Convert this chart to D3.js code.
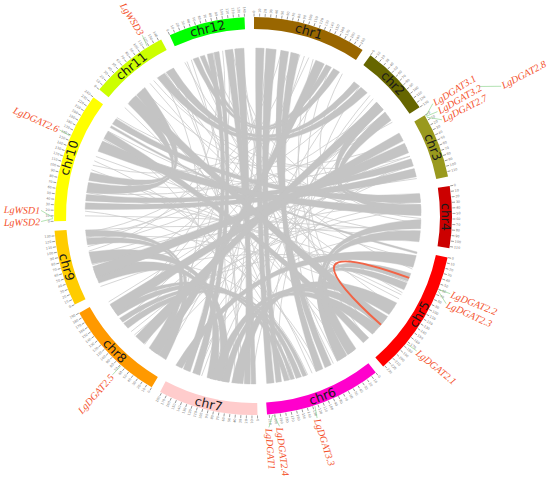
<!DOCTYPE html>
<html>
<head>
<meta charset="utf-8">
<script src="https://cdn.jsdelivr.net/npm/d3@7"></script>
<style>
  body { margin: 0; background: #fff; }
</style>
</head>
<body>
<svg id="chart" width="550" height="480"></svg>
<script>
// chromosomes, lengths (units of the ticks)
const chromNames = ["chr1", "chr2", "chr3", "chr4", "chr5", "chr6",
                    "chr7", "chr8", "chr9", "chr10", "chr11", "chr12"];
const chromLengths = [208, 130, 119, 113, 233, 214, 183, 190, 139, 240, 145, 140];
const chromColors = ["#996600", "#666600", "#99991e", "#cc0000", "#ff0000", "#ff00cc",
                     "#ffcccc", "#ff9900", "#ffcc00", "#ffff00", "#ccff00", "#00ff00"];

// syntenic blocks: [chrA, startA, endA, chrB, startB, endB]
const blocks = [
  [12, 95, 112, 7, 2, 12],
  [12, 116, 136, 7, 14, 27],
  [1, 4, 22, 6, 194, 210],
  [1, 26, 48, 6, 178, 190],
  [1, 58, 75, 6, 65, 80],
  [1, 80, 98, 6, 85, 101],
  [12, 24, 36, 1, 178, 193],
  [12, 40, 50, 1, 160, 173],
  [11, 100, 118, 2, 24, 42],
  [11, 122, 140, 2, 6, 20],
  [1, 136, 156, 8, 22, 42],
  [12, 56, 68, 7, 146, 162],
  [12, 71, 82, 7, 124, 140],
  [7, 62, 84, 9, 62, 88],
  [7, 88, 108, 9, 18, 50],
  [8, 110, 124, 6, 134, 146],
  [8, 127, 138, 6, 122, 131],
  [8, 144, 158, 6, 161, 172],
  [8, 161, 172, 6, 150, 158],
  [9, 104, 118, 8, 28, 48],
  [9, 122, 136, 8, 4, 22],
  [10, 60, 82, 11, 42, 66],
  [10, 86, 104, 11, 16, 36],
  [10, 24, 38, 3, 88, 106],
  [10, 42, 56, 3, 66, 82],
  [10, 152, 176, 4, 32, 54],
  [10, 182, 200, 5, 216, 232],
  [10, 209, 214, 5, 2, 6],
  [10, 218, 232, 4, 6, 24],
  [4, 8, 26, 2, 98, 120],
  [4, 30, 48, 2, 70, 92],
  [4, 62, 82, 6, 26, 50],
  [4, 86, 110, 6, 2, 22],
  [5, 10, 36, 7, 165, 180],
  [3, 5, 24, 8, 150, 174],
  [3, 30, 52, 9, 30, 56],
  [5, 120, 150, 7, 30, 54],
  [5, 155, 178, 7, 80, 100],
  [5, 182, 205, 7, 60, 76],
  [5, 50, 68, 6, 28, 46],
  [5, 72, 88, 6, 6, 24],
  [2, 72, 92, 8, 62, 86],
  [11, 20, 40, 5, 160, 184]
];

// single gene pairs: [chrA, pos, chrB, pos]
const links = [
  [1, 110, 7, 150], [1, 120, 9, 20], [1, 185, 10, 120], [2, 20, 6, 40], [2, 100, 8, 120],
  [2, 125, 10, 60], [3, 15, 7, 100], [3, 60, 9, 80], [3, 90, 8, 30], [4, 40, 8, 100],
  [4, 100, 10, 200], [4, 70, 12, 60], [5, 20, 10, 140], [5, 95, 11, 80], [5, 140, 9, 120],
  [5, 180, 12, 120], [5, 220, 1, 130], [6, 30, 11, 30], [6, 90, 10, 20], [6, 160, 12, 10],
  [6, 200, 2, 50], [7, 40, 11, 130], [7, 170, 3, 40], [8, 10, 1, 100], [8, 90, 4, 20],
  [8, 180, 2, 110], [9, 10, 5, 60], [9, 70, 3, 100], [9, 130, 1, 60], [10, 10, 4, 90],
  [10, 80, 5, 100], [10, 130, 6, 140], [10, 235, 3, 20], [11, 5, 6, 110], [11, 60, 4, 10],
  [11, 140, 7, 80], [12, 5, 5, 40], [12, 90, 8, 150], [12, 130, 6, 60], [1, 200, 4, 60],
  [2, 5, 7, 120], [3, 110, 10, 170], [6, 120, 9, 40], [7, 100, 1, 30], [8, 60, 12, 100],
  [9, 100, 2, 80], [5, 110, 10, 100], [4, 105, 9, 135], [6, 70, 1, 150], [7, 10, 3, 70],
  [1, 15, 7, 60], [1, 45, 8, 150], [1, 90, 9, 110], [1, 170, 5, 200], [2, 30, 9, 120],
  [2, 60, 7, 20], [2, 90, 6, 180], [3, 40, 10, 90], [3, 80, 8, 170], [4, 20, 9, 60],
  [4, 50, 11, 100], [4, 95, 7, 140], [5, 30, 8, 120], [5, 70, 10, 60], [5, 130, 11, 120],
  [5, 200, 12, 30], [6, 10, 10, 180], [6, 50, 12, 120], [6, 150, 11, 60], [7, 50, 12, 20],
  [7, 130, 2, 90], [8, 40, 3, 10], [8, 130, 1, 180], [9, 40, 4, 80], [9, 90, 12, 70],
  [10, 110, 6, 100], [10, 190, 7, 30], [11, 90, 3, 60], [11, 110, 8, 30], [12, 110, 4, 30]
];

// highlighted pair
const redLinks = [[5, 60, 5, 178]];

// genes: [name, chr, pos]
const genes = [
  ["LgWSD3", 11, 117],
  ["LgDGAT2.6", 10, 158],
  ["LgWSD1", 10, 7],
  ["LgWSD2", 10, 5],
  ["LgDGAT3.1", 3, 2],
  ["LgDGAT3.2", 3, 3],
  ["LgDGAT2.7", 3, 5],
  ["LgDGAT2.8", 3, 4],
  ["LgDGAT2.2", 5, 60],
  ["LgDGAT2.3", 5, 63],
  ["LgDGAT2.1", 5, 174],
  ["LgDGAT2.5", 8, 68],
  ["LgDGAT2.4", 6, 202],
  ["LgDGAT1", 6, 204],
  ["LgDGAT3.3", 6, 126]
];

// label placement (degrees) where labels are spread apart
const labelAngle = {
  "LgWSD3": 328.5, "LgDGAT2.6": 294, "LgWSD1": 271.5, "LgWSD2": 268.5,
  "LgDGAT3.1": 58, "LgDGAT3.2": 60.5, "LgDGAT2.7": 63, "LgDGAT2.8": 62.4,
  "LgDGAT2.2": 111.5, "LgDGAT2.3": 114.4, "LgDGAT2.1": 129.5, "LgDGAT2.5": 221.5,
  "LgDGAT2.4": 172.8, "LgDGAT1": 175.7, "LgDGAT3.3": 162.4
};
const labelRadius = { "LgDGAT2.8": 281 };

const cx = 253, cy = 216;
const rOuter = 199, rInner = 187, rLink = 168, rLabel = 213;
const gapDeg = 2.75, startDeg = 0.3, bend = 0.15;

const rad = d => d * Math.PI / 180;
const pt = (deg, r) => [r * Math.sin(rad(deg)), -r * Math.cos(rad(deg))];

const degPerUnit = (360 - gapDeg * chromNames.length) / d3.sum(chromLengths);
let acc = startDeg;
const chroms = chromNames.map((name, i) => {
  const s = acc, e = s + chromLengths[i] * degPerUnit;
  acc = e + gapDeg;
  return {
    name, len: chromLengths[i], color: chromColors[i], start: s, end: e,
    scale: d3.scaleLinear().domain([0, chromLengths[i]]).range([s, e])
  };
});
const ang = (c, pos) => chroms[c - 1].scale(pos);

const svg = d3.select("#chart");
const g = svg.append("g").attr("transform", `translate(${cx},${cy})`);

function ctrl(p, q) {
  return [(p[0] + q[0]) / 2 * bend, (p[1] + q[1]) / 2 * bend];
}

function ribbonPath(a0, a1, b0, b1) {
  const p = d3.path();
  const A0 = pt(a0, rLink), A1 = pt(a1, rLink), B0 = pt(b0, rLink), B1 = pt(b1, rLink);
  p.moveTo(A0[0], A0[1]);
  p.arc(0, 0, rLink, rad(a0) - Math.PI / 2, rad(a1) - Math.PI / 2, a1 < a0);
  let c = ctrl(A1, B0);
  p.quadraticCurveTo(c[0], c[1], B0[0], B0[1]);
  p.arc(0, 0, rLink, rad(b0) - Math.PI / 2, rad(b1) - Math.PI / 2, b1 < b0);
  c = ctrl(B1, A0);
  p.quadraticCurveTo(c[0], c[1], A0[0], A0[1]);
  p.closePath();
  return p.toString();
}

function linkPath(a, b) {
  const p = d3.path();
  const A = pt(a, rLink), B = pt(b, rLink), c = ctrl(A, B);
  p.moveTo(A[0], A[1]);
  p.quadraticCurveTo(c[0], c[1], B[0], B[1]);
  return p.toString();
}

// links
g.append("g").selectAll("path")
  .data(links)
  .enter().append("path")
  .attr("d", d => linkPath(ang(d[0], d[1]), ang(d[2], d[3])))
  .attr("fill", "none")
  .attr("stroke", "#cbcbcb")
  .attr("stroke-width", 0.8);

g.append("g").selectAll("path")
  .data(blocks)
  .enter().append("path")
  .attr("d", d => ribbonPath(ang(d[0], d[1]), ang(d[0], d[2]), ang(d[3], d[4]), ang(d[3], d[5])))
  .attr("fill", "#c4c4c4")
  .attr("stroke", "#c4c4c4")
  .attr("stroke-width", 0.4);

g.append("g").selectAll("path")
  .data(redLinks)
  .enter().append("path")
  .attr("d", d => linkPath(ang(d[0], d[1]), ang(d[2], d[3])))
  .attr("fill", "none")
  .attr("stroke", "#f26446")
  .attr("stroke-width", 2);

// chromosome bands
const arc = d3.arc().innerRadius(rInner).outerRadius(rOuter);
const chr = g.append("g").selectAll("g")
  .data(chroms)
  .enter().append("g");

chr.append("path")
  .attr("d", d => arc({ startAngle: rad(d.start), endAngle: rad(d.end) }))
  .attr("fill", d => d.color);

chr.append("text")
  .attr("transform", d => {
    const mid = (d.start + d.end) / 2;
    const flip = mid > 95 && mid < 265;
    return `rotate(${mid}) translate(0,${-(rInner + rOuter) / 2})` + (flip ? " rotate(180)" : "");
  })
  .attr("text-anchor", "middle")
  .attr("dominant-baseline", "central")
  .attr("font-family", "DejaVu Sans, sans-serif")
  .attr("font-size", 12.5)
  .attr("fill", "#1a1a1a")
  .text(d => d.name);

// ticks every 10 units
const ticks = chr.selectAll(".tick")
  .data(d => d.scale.ticks(Math.ceil(d.len / 10))
    .filter(v => v % 10 === 0)
    .map(v => ({ v, deg: d.scale(v) })))
  .enter().append("g")
  .attr("class", "tick");

ticks.append("line")
  .attr("transform", t => `rotate(${t.deg})`)
  .attr("y1", -rOuter - 0.5)
  .attr("y2", -rOuter - 3.5)
  .attr("stroke", "#444")
  .attr("stroke-width", 0.5);

ticks.append("text")
  .attr("transform", t => t.deg < 180
    ? `rotate(${t.deg - 90}) translate(${rOuter + 4.3},0)`
    : `rotate(${t.deg + 90}) translate(${-(rOuter + 4.3)},0)`)
  .attr("text-anchor", t => t.deg < 180 ? "start" : "end")
  .attr("dominant-baseline", "central")
  .attr("font-family", "DejaVu Sans, sans-serif")
  .attr("font-size", 3.3)
  .attr("fill", "#777")
  .text(t => t.v);

// gene labels
const gene = g.append("g").selectAll("g")
  .data(genes.map(d => {
    const deg = ang(d[1], d[2]);
    return { name: d[0], deg, lab: labelAngle[d[0]] ?? deg, r: labelRadius[d[0]] ?? rLabel };
  }))
  .enter().append("g");

gene.append("line")
  .each(function (d) {
    const a = pt(d.deg, d.r > rLabel ? d.r - 20 : rOuter + 1);
    const b = pt(d.lab, d.r - 1);
    d3.select(this).attr("x1", a[0]).attr("y1", a[1]).attr("x2", b[0]).attr("y2", b[1]);
  })
  .attr("stroke", "#7fcf7f")
  .attr("stroke-width", 0.6);

gene.append("text")
  .attr("transform", d => d.lab < 180
    ? `rotate(${d.lab - 90}) translate(${d.r},0)`
    : `rotate(${d.lab + 90}) translate(${-d.r},0)`)
  .attr("text-anchor", d => d.lab < 180 ? "start" : "end")
  .attr("dominant-baseline", "central")
  .attr("font-family", "Liberation Serif, Times New Roman, serif")
  .attr("font-style", "italic")
  .attr("font-size", 10)
  .attr("fill", "#f4502a")
  .text(d => d.name);
</script>
</body>
</html>
